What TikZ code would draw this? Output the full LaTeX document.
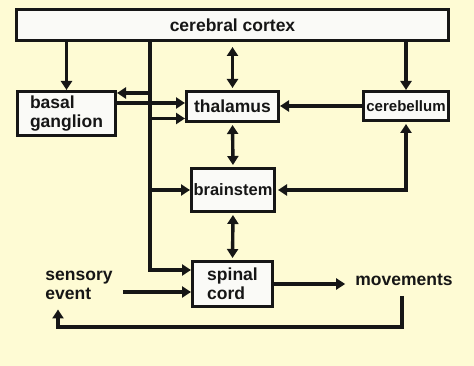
\documentclass[tikz,border=0pt]{standalone}
\usepackage{fontspec}
\setmainfont{Liberation Sans}
\usetikzlibrary{arrows.meta}
\definecolor{paper}{RGB}{254,251,212}
\definecolor{boxfill}{RGB}{250,250,247}
\definecolor{ink}{RGB}{22,22,22}

\begin{document}
\begin{tikzpicture}[x=1pt,y=-1pt,>={Triangle[length=9pt,width=11pt]},
  part/.style={draw=ink,fill=boxfill,line width=3pt,inner sep=0pt,text=ink,
    font=\bfseries\fontsize{17.5}{19}\selectfont},
  word/.style={inner sep=10pt,text=ink,font=\bfseries\fontsize{17.5}{19}\selectfont},
  wire/.style={draw=ink,line width=3.4pt}]
\fill[paper] (0,0) rectangle (474,366);
\useasboundingbox (0,0) rectangle (474,366);
% boxes
\node[part,minimum width=432pt,minimum height=31pt] (cortex) at (232.5,25) {cerebral cortex};
\node[part,minimum width=98pt,minimum height=44pt,align=left] (basal) at (66.5,113.5) {basal\\ganglion};
\node[part,minimum width=92pt,minimum height=30pt] (thalamus) at (232.5,106.5) {thalamus};
\node[part,minimum width=85pt,minimum height=29pt,font=\bfseries\fontsize{15}{17}\selectfont] (cerebellum) at (406,106) {cerebellum};
\node[part,minimum width=83pt,minimum height=43pt,font=\bfseries\fontsize{16.5}{19}\selectfont] (brainstem) at (233,190) {brainstem};
\node[part,minimum width=80pt,minimum height=45pt,align=left] (spinal) at (232.5,284) {spinal\\cord};
\node[word,align=left] (sensory) at (79,285) {sensory\\event};
\node[word] (movements) at (404,280) {movements};
\coordinate (trunk) at ([xshift=-82.5pt]cortex.south);
% descending pathways
\draw[wire,->] (basal.north |- cortex.south) -- (basal.north);
\draw[wire,->] (cerebellum.north |- cortex.south) -- (cerebellum.north);
\draw[wire,->] (trunk) |- ([yshift=14pt]spinal.west);
\draw[wire,->] ([yshift=20.5pt]basal.east -| trunk) -- ([yshift=20.5pt]basal.east);
\draw[wire,->] ([yshift=-12pt]thalamus.west -| trunk) -- ([yshift=-12pt]thalamus.west);
\draw[wire,->] (brainstem.west -| trunk) -- (brainstem.west);
\draw[wire,->] ([yshift=10.5pt]basal.east) -- ([yshift=10.5pt]basal.east -| thalamus.west);
\draw[wire,->] (cerebellum.west) -- (cerebellum.west -| thalamus.east);
% two-way links
\draw[wire,<->,shorten <=5pt,shorten >=2pt] (thalamus.north |- cortex.south) -- (thalamus.north);
\draw[wire,<->,shorten <=2pt,shorten >=2pt] (thalamus.south) -- (brainstem.north);
\draw[wire,<->,shorten <=2pt,shorten >=2pt] (brainstem.south) -- (spinal.north);
\draw[wire,<->,shorten <=2pt,shorten >=2pt] (cerebellum.south) |- (brainstem.east);
% sensory loop
\draw[wire,->] ([yshift=-7pt]sensory.east) -- ([yshift=-7pt]sensory.east -| spinal.west);
\draw[wire,->] (spinal.east) -- (spinal.east -| movements.west);
\draw[wire,->] ([xshift=-2pt]movements.south) -- ++(0,31) -| ([xshift=-21pt]sensory.south);
\end{tikzpicture}
\end{document}
